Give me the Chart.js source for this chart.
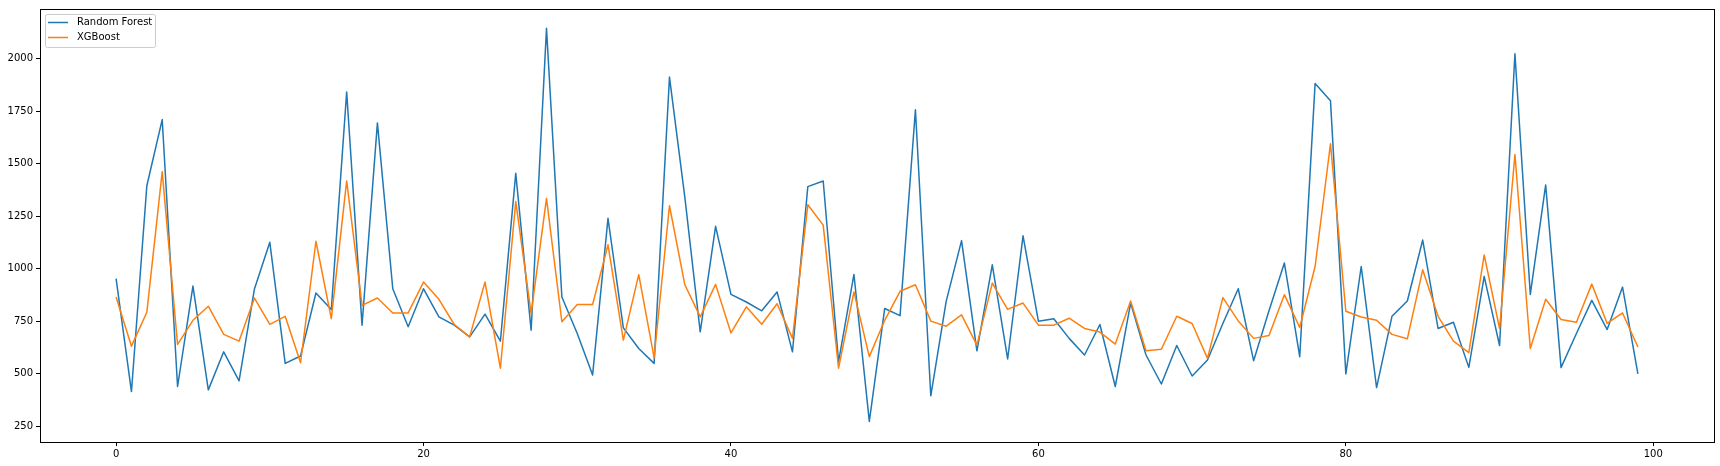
<!DOCTYPE html>
<html>
<head>
<meta charset="utf-8">
<script src="https://cdn.jsdelivr.net/npm/chart.js@4"></script>
<style>
  html, body { margin: 0; padding: 0; background: #fff; }
  #wrap { width: 1720px; height: 466px; }
</style>
</head>
<body>
<div id="wrap"><canvas id="predChart" width="1720" height="466"></canvas></div>
<script>
// values, index 0..99
const randomForest = [
  953, 416, 1395, 1710, 440, 918, 424, 605, 467, 904,
  1126, 550, 585, 885, 806, 1841, 732, 1694, 905, 724,
  905, 771, 732, 676, 784, 656, 1454, 708, 2144, 866,
  692, 495, 1240, 719, 621, 550, 1912, 1340, 700, 1202,
  878, 842, 800, 890, 605, 1391, 1418, 558, 973, 274,
  811, 777, 1757, 396, 845, 1134, 610, 1019, 571, 1157,
  751, 762, 669, 590, 735, 440, 837, 590, 452, 635,
  490, 566, 740, 905, 563, 800, 1028, 582, 1881, 1800,
  500, 1011, 435, 774, 847, 1137, 716, 746, 531, 964,
  635, 2023, 878, 1399, 530, 692, 850, 711, 913, 500
];
const xgBoost = [
  866, 632, 793, 1462, 640, 755, 822, 688, 656, 861,
  736, 774, 553, 1131, 763, 1418, 826, 861, 790, 790,
  937, 855, 735, 676, 937, 527, 1320, 787, 1335, 748,
  830, 830, 1114, 661, 972, 577, 1300, 924, 771, 926,
  695, 819, 736, 834, 669, 1305, 1208, 527, 890, 582,
  755, 893, 924, 751, 727, 781, 637, 932, 807, 837,
  732, 732, 765, 716, 699, 642, 847, 610, 617, 774,
  740, 574, 863, 752, 669, 683, 877, 721, 1011, 1595,
  798, 771, 755, 688, 667, 995, 774, 656, 601, 1066,
  716, 1544, 621, 855, 759, 746, 927, 740, 790, 628
];
const seriesNames = ['Random Forest', 'XGBoost'];
const seriesColors = ['#1f77b4', '#ff7f0e'];
const xTicks = [0, 20, 40, 60, 80, 100];
const yTicks = [250, 500, 750, 1000, 1250, 1500, 1750, 2000];

const font = { family: 'DejaVu Sans', size: 10 };
const textColor = '#000';

// frame around the plot area (matplotlib spines) + legend box in upper left
const framePlugin = {
  id: 'frame',
  afterDraw(chart) {
    const ctx = chart.ctx;
    const a = chart.chartArea;
    ctx.save();
    ctx.strokeStyle = '#000';
    ctx.lineWidth = 1;
    ctx.strokeRect(Math.round(a.left) + 0.5, Math.round(a.top) + 0.5,
      Math.round(a.right - a.left), Math.round(a.bottom - a.top));

    // legend
    const x0 = a.left + 5, y0 = a.top + 5;
    const w = 110, h = 33;
    ctx.fillStyle = 'rgba(255,255,255,0.8)';
    ctx.strokeStyle = '#cccccc';
    ctx.beginPath();
    ctx.roundRect(x0 + 0.5, y0 + 0.5, w, h, 2);
    ctx.fill();
    ctx.stroke();
    ctx.font = '10px "DejaVu Sans"';
    ctx.textBaseline = 'middle';
    chart.data.datasets.forEach((ds, i) => {
      const yy = y0 + 8.5 + i * 15;
      ctx.strokeStyle = ds.borderColor;
      ctx.lineWidth = 1.5;
      ctx.beginPath();
      ctx.moveTo(x0 + 3, yy);
      ctx.lineTo(x0 + 23, yy);
      ctx.stroke();
      ctx.fillStyle = textColor;
      ctx.fillText(ds.label, x0 + 32, yy);
    });
    ctx.restore();
  }
};

const ctx = document.getElementById('predChart').getContext('2d');
new Chart(ctx, {
  type: 'line',
  data: {
    labels: randomForest.map((_, i) => i),
    datasets: [
      {
        label: seriesNames[0],
        data: randomForest.map((v, i) => ({ x: i, y: v })),
        borderColor: seriesColors[0],
        borderWidth: 1.5,
        borderJoinStyle: 'round',
        pointRadius: 0,
        tension: 0,
        fill: false,
        order: 1
      },
      {
        label: seriesNames[1],
        data: xgBoost.map((v, i) => ({ x: i, y: v })),
        borderColor: seriesColors[1],
        borderWidth: 1.5,
        borderJoinStyle: 'round',
        pointRadius: 0,
        tension: 0,
        fill: false,
        order: 0
      }
    ]
  },
  options: {
    responsive: false,
    animation: false,
    devicePixelRatio: 1,
    layout: { padding: { top: 7, right: 6, left: 0, bottom: 0 } },
    plugins: {
      legend: { display: false },
      tooltip: { enabled: false }
    },
    scales: {
      x: {
        type: 'linear',
        min: -4.95,
        max: 103.95,
        afterBuildTicks: (scale) => { scale.ticks = xTicks.map(v => ({ value: v })); },
        afterFit: (scale) => { scale.height = 24; },
        ticks: { color: textColor, font: font, padding: 2, maxRotation: 0, callback: (v) => String(v) },
        grid: { display: true, drawOnChartArea: false, drawTicks: true, tickLength: 4, color: '#000' },
        border: { display: false }
      },
      y: {
        type: 'linear',
        min: 176,
        max: 2236,
        afterBuildTicks: (scale) => { scale.ticks = yTicks.map(v => ({ value: v })); },
        afterFit: (scale) => { scale.width = 40; },
        ticks: { color: textColor, font: font, padding: 3, callback: (v) => String(v) },
        grid: { display: true, drawOnChartArea: false, drawTicks: true, tickLength: 4, color: '#000' },
        border: { display: false }
      }
    }
  },
  plugins: [framePlugin]
});
</script>
</body>
</html>
